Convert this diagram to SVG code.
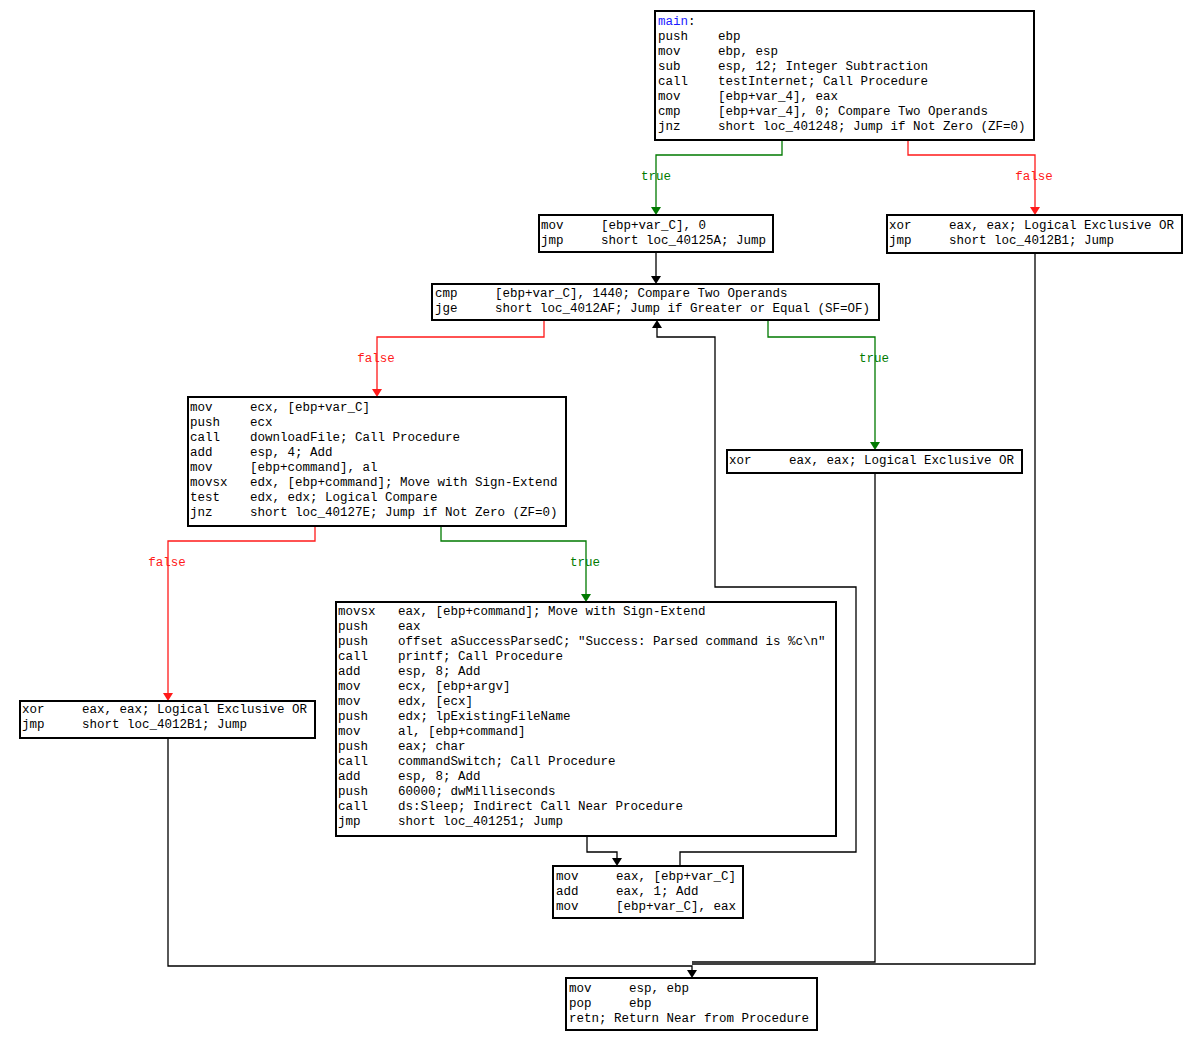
<svg xmlns="http://www.w3.org/2000/svg" width="1200" height="1041" viewBox="0 0 1200 1041">
<style>
rect{fill:#fff;stroke:#000;stroke-width:2}
text{font-family:"Liberation Mono","DejaVu Sans Mono",monospace;font-size:12.5px;fill:#000;white-space:pre}
.c{fill:none;stroke-width:1.3}
.k{stroke:#000}.g{stroke:#007a00}.r{stroke:#ff1a1a}
.lg{fill:#007a00;text-anchor:middle}.lr{fill:#ff1a1a;text-anchor:middle}
</style>
<defs>
<marker id="ak" markerWidth="10" markerHeight="8" refX="5" refY="8" orient="auto-start-reverse" markerUnits="userSpaceOnUse" viewBox="0 0 10 8"><path d="M0,0 L10,0 L5,8Z" fill="#000" transform="rotate(-90 5 4)"/></marker>
</defs>
<rect width="1200" height="1041" style="fill:#fff;stroke:none"/>
<g id="connectors">
<path class="c g" d="M782,140V155H656V207"/><path d="M651,207h10l-5,8z" fill="#007a00"/>
<text x="656" y="180" class="lg">true</text>
<path class="c r" d="M908,140V155H1035V207"/><path d="M1030,207h10l-5,8z" fill="#ff1a1a"/>
<text x="1034" y="180" class="lr">false</text>
<path class="c k" d="M656,252V276"/><path d="M651,276h10l-5,8z"/>
<path class="c r" d="M544,320V337H377V389"/><path d="M372,389h10l-5,8z" fill="#ff1a1a"/>
<text x="376" y="362" class="lr">false</text>
<path class="c g" d="M768,320V337H875V442"/><path d="M870,442h10l-5,8z" fill="#007a00"/>
<text x="874" y="362" class="lg">true</text>
<path class="c r" d="M315,526V541H168V693"/><path d="M163,693h10l-5,8z" fill="#ff1a1a"/>
<text x="167" y="566" class="lr">false</text>
<path class="c g" d="M441,526V541H586V594"/><path d="M581,594h10l-5,8z" fill="#007a00"/>
<text x="585" y="566" class="lg">true</text>
<path class="c k" d="M587,836V852H617V858"/><path d="M612,858h10l-5,8z"/>
<path class="c k" d="M680,866V852H856V587H715V337H657V328"/><path d="M652,328h10l-5,-8z"/>
<path class="c k" d="M168,738V966H692V970"/>
<path class="c k" d="M875,473V962H692"/>
<path class="c k" d="M1035,253V964H692"/><path d="M687,970h10l-5,8z"/>
</g>
<g id="n_main"><rect x="655" y="11" width="379" height="129"/>
<text x="658" y="25"><tspan fill="#1a1aff">main</tspan>:</text>
<text x="658" y="40">push    ebp</text>
<text x="658" y="55">mov     ebp, esp</text>
<text x="658" y="70">sub     esp, 12; Integer Subtraction</text>
<text x="658" y="85">call    testInternet; Call Procedure</text>
<text x="658" y="100">mov     [ebp+var_4], eax</text>
<text x="658" y="115">cmp     [ebp+var_4], 0; Compare Two Operands</text>
<text x="658" y="130">jnz     short loc_401248; Jump if Not Zero (ZF=0)</text></g>
<g id="n_init"><rect x="539" y="215" width="234" height="37"/>
<text x="541" y="229">mov     [ebp+var_C], 0</text>
<text x="541" y="244">jmp     short loc_40125A; Jump</text></g>
<g id="n_fail1"><rect x="887" y="215" width="295" height="38"/>
<text x="889" y="229">xor     eax, eax; Logical Exclusive OR</text>
<text x="889" y="244">jmp     short loc_4012B1; Jump</text></g>
<g id="n_cmp"><rect x="432" y="284" width="447" height="36"/>
<text x="435" y="297">cmp     [ebp+var_C], 1440; Compare Two Operands</text>
<text x="435" y="312">jge     short loc_4012AF; Jump if Greater or Equal (SF=OF)</text></g>
<g id="n_dl"><rect x="188" y="397" width="378" height="129"/>
<text x="190" y="411">mov     ecx, [ebp+var_C]</text>
<text x="190" y="426">push    ecx</text>
<text x="190" y="441">call    downloadFile; Call Procedure</text>
<text x="190" y="456">add     esp, 4; Add</text>
<text x="190" y="471">mov     [ebp+command], al</text>
<text x="190" y="486">movsx   edx, [ebp+command]; Move with Sign-Extend</text>
<text x="190" y="501">test    edx, edx; Logical Compare</text>
<text x="190" y="516">jnz     short loc_40127E; Jump if Not Zero (ZF=0)</text></g>
<g id="n_xor2"><rect x="727" y="450" width="295" height="23"/>
<text x="729" y="464">xor     eax, eax; Logical Exclusive OR</text></g>
<g id="n_fail3"><rect x="20" y="701" width="295" height="37"/>
<text x="22" y="713">xor     eax, eax; Logical Exclusive OR</text>
<text x="22" y="728">jmp     short loc_4012B1; Jump</text></g>
<g id="n_cmd"><rect x="336" y="602" width="500" height="234"/>
<text x="338" y="615">movsx   eax, [ebp+command]; Move with Sign-Extend</text>
<text x="338" y="630">push    eax</text>
<text x="338" y="645">push    offset aSuccessParsedC; "Success: Parsed command is %c\n"</text>
<text x="338" y="660">call    printf; Call Procedure</text>
<text x="338" y="675">add     esp, 8; Add</text>
<text x="338" y="690">mov     ecx, [ebp+argv]</text>
<text x="338" y="705">mov     edx, [ecx]</text>
<text x="338" y="720">push    edx; lpExistingFileName</text>
<text x="338" y="735">mov     al, [ebp+command]</text>
<text x="338" y="750">push    eax; char</text>
<text x="338" y="765">call    commandSwitch; Call Procedure</text>
<text x="338" y="780">add     esp, 8; Add</text>
<text x="338" y="795">push    60000; dwMilliseconds</text>
<text x="338" y="810">call    ds:Sleep; Indirect Call Near Procedure</text>
<text x="338" y="825">jmp     short loc_401251; Jump</text></g>
<g id="n_inc"><rect x="553" y="866" width="190" height="52"/>
<text x="556" y="880">mov     eax, [ebp+var_C]</text>
<text x="556" y="895">add     eax, 1; Add</text>
<text x="556" y="910">mov     [ebp+var_C], eax</text></g>
<g id="n_ret"><rect x="566" y="978" width="251" height="52"/>
<text x="569" y="992">mov     esp, ebp</text>
<text x="569" y="1007">pop     ebp</text>
<text x="569" y="1022">retn; Return Near from Procedure</text></g>
</svg>
